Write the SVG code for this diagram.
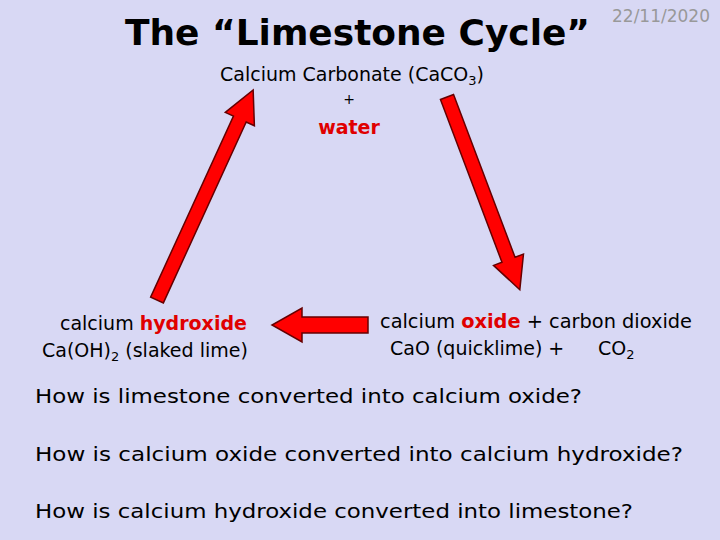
<svg xmlns="http://www.w3.org/2000/svg" width="720" height="540" viewBox="0 0 720 540">
<style>
text{font-family:"DejaVu Sans",sans-serif;fill:#000}
.t{font-size:19px}
.r{fill:#e00000;font-weight:bold}
.q{font-size:20px}
.arr{fill:#f00;stroke:#600;stroke-width:1.5}
</style>
<rect width="720" height="540" fill="#d8d8f4"/>
<g id="title"><text x="125" y="45" font-size="36" font-weight="bold" textLength="465" lengthAdjust="spacingAndGlyphs" fill="#111">The “Limestone Cycle”</text>
<text x="612" y="22" font-size="17" fill="#999" style="fill:#999">22/11/2020</text></g>
<g id="carbonate"><text class="t" x="220" y="81">Calcium Carbonate (CaCO<tspan font-size="13" dy="4">3</tspan><tspan dy="-4">)</tspan></text>
<text x="349" y="104" font-size="14" text-anchor="middle">+</text>
<text class="t r" x="349" y="134" text-anchor="middle">water</text></g>
<g id="hydroxide"><text class="t" x="60" y="330">calcium <tspan class="r">hydroxide</tspan></text>
<text class="t" x="42" y="357">Ca(OH)<tspan font-size="13" dy="4">2</tspan><tspan dy="-4"> (slaked lime)</tspan></text></g>
<g id="oxide"><text class="t" x="380" y="328" textLength="312" lengthAdjust="spacingAndGlyphs">calcium <tspan class="r">oxide</tspan> + carbon dioxide</text>
<text class="t" x="390" y="355">CaO (quicklime) +</text>
<text class="t" x="598" y="355">CO<tspan font-size="13" dy="4">2</tspan></text></g>
<g id="connectors">
<path id="a1" class="arr" transform="translate(157,300) rotate(-65.4)" d="M0,-7H199V-16L231,0L199,16V7H0Z"/>
<path id="a2" class="arr" transform="translate(447,97) rotate(69.3)" d="M0,-7H174V-16L206,0L174,16V7H0Z"/>
<path id="a3" class="arr" transform="translate(368,325) rotate(180)" d="M0,-8H66V-17L96,0L66,17V8H0Z"/>
</g>
<g id="questions">
<text class="q" x="35" y="403" textLength="547" lengthAdjust="spacingAndGlyphs">How is limestone converted into calcium oxide?</text>
<text class="q" x="35" y="461" textLength="648" lengthAdjust="spacingAndGlyphs">How is calcium oxide converted into calcium hydroxide?</text>
<text class="q" x="35" y="518" textLength="598" lengthAdjust="spacingAndGlyphs">How is calcium hydroxide converted into limestone?</text></g>
</svg>
